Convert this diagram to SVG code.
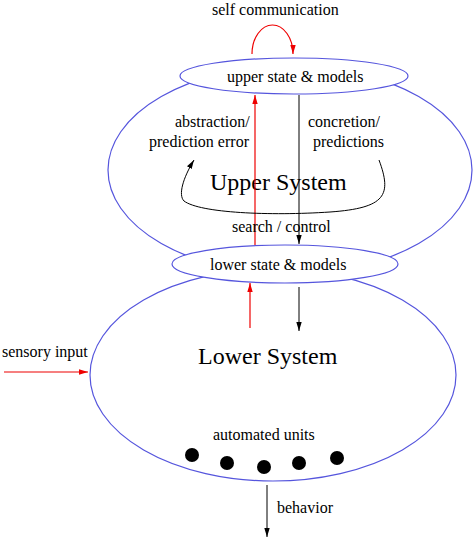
<svg xmlns="http://www.w3.org/2000/svg" width="474" height="538" viewBox="0 0 474 538">
<defs>
<style>
.sys{fill:none;stroke:#5555dd;stroke-width:1.2}
.st{fill:#fff;stroke:#5555dd;stroke-width:1.2}
.t{font-family:"Liberation Serif","Times New Roman",serif;font-size:16px;fill:#000}
.big{font-size:24px}
.red{fill:none;stroke:#e00;stroke-width:1.2}
.blk{fill:none;stroke:#000;stroke-width:1}
</style>
<marker id="ar" viewBox="0 0 10 6" refX="10" refY="3" markerWidth="9" markerHeight="5.4" markerUnits="userSpaceOnUse" orient="auto"><path d="M0,0 L10,3 L0,6 z" fill="#e00"/></marker>
<marker id="ab" viewBox="0 0 10 6" refX="10" refY="3" markerWidth="9" markerHeight="5.4" markerUnits="userSpaceOnUse" orient="auto"><path d="M0,0 L10,3 L0,6 z" fill="#000"/></marker>
</defs>
<rect width="474" height="538" fill="#fff"/>
<g id="upper-system">
<ellipse class="sys" cx="290" cy="170" rx="182" ry="104"/>
<text class="t big" x="210" y="190">Upper System</text>
</g>
<g id="lower-system">
<ellipse class="sys" cx="273" cy="375" rx="183" ry="106"/>
<text class="t big" x="198" y="364">Lower System</text>
</g>
<g id="upper-state">
<ellipse class="st" cx="294" cy="76" rx="114" ry="18"/>
<text class="t" x="227" y="82">upper state &amp; models</text>
</g>
<g id="lower-state">
<ellipse class="st" cx="285" cy="264" rx="113" ry="19"/>
<text class="t" x="210" y="270">lower state &amp; models</text>
</g>
<g id="automated-units">
<text class="t" x="213" y="440">automated units</text>
<circle cx="192" cy="455" r="7"/>
<circle cx="227" cy="463" r="7"/>
<circle cx="264" cy="467" r="7"/>
<circle cx="299" cy="463" r="7"/>
<circle cx="337" cy="458" r="7"/>
</g>
<g id="connectors">
<path class="red" d="M252 54 A20.5 29 0 0 1 293 54" marker-end="url(#ar)"/>
<path class="red" d="M255 245 L255 95" marker-end="url(#ar)"/>
<path class="blk" d="M299 95 L299 244" marker-end="url(#ab)"/>
<path class="red" d="M250 328 L250 283" marker-end="url(#ar)"/>
<path class="blk" d="M299 287 L299 331" marker-end="url(#ab)"/>
<path class="red" d="M4 372 L88 372" marker-end="url(#ar)"/>
<path class="blk" d="M267 485 L267 537" marker-end="url(#ab)"/>
<path class="blk" d="M379 160 C392 195 386 208 330 212 C270 216 200 213 184 201 C178 195 183 178 194 160" marker-end="url(#ab)"/>
</g>
<g id="labels">
<text class="t" x="212" y="15">self communication</text>
<text class="t" x="175" y="127">abstraction/</text>
<text class="t" x="149" y="147">prediction error</text>
<text class="t" x="308" y="127">concretion/</text>
<text class="t" x="313" y="147">predictions</text>
<text class="t" x="232" y="232">search / control</text>
<text class="t" x="2" y="357">sensory input</text>
<text class="t" x="277" y="513">behavior</text>
</g>
</svg>
